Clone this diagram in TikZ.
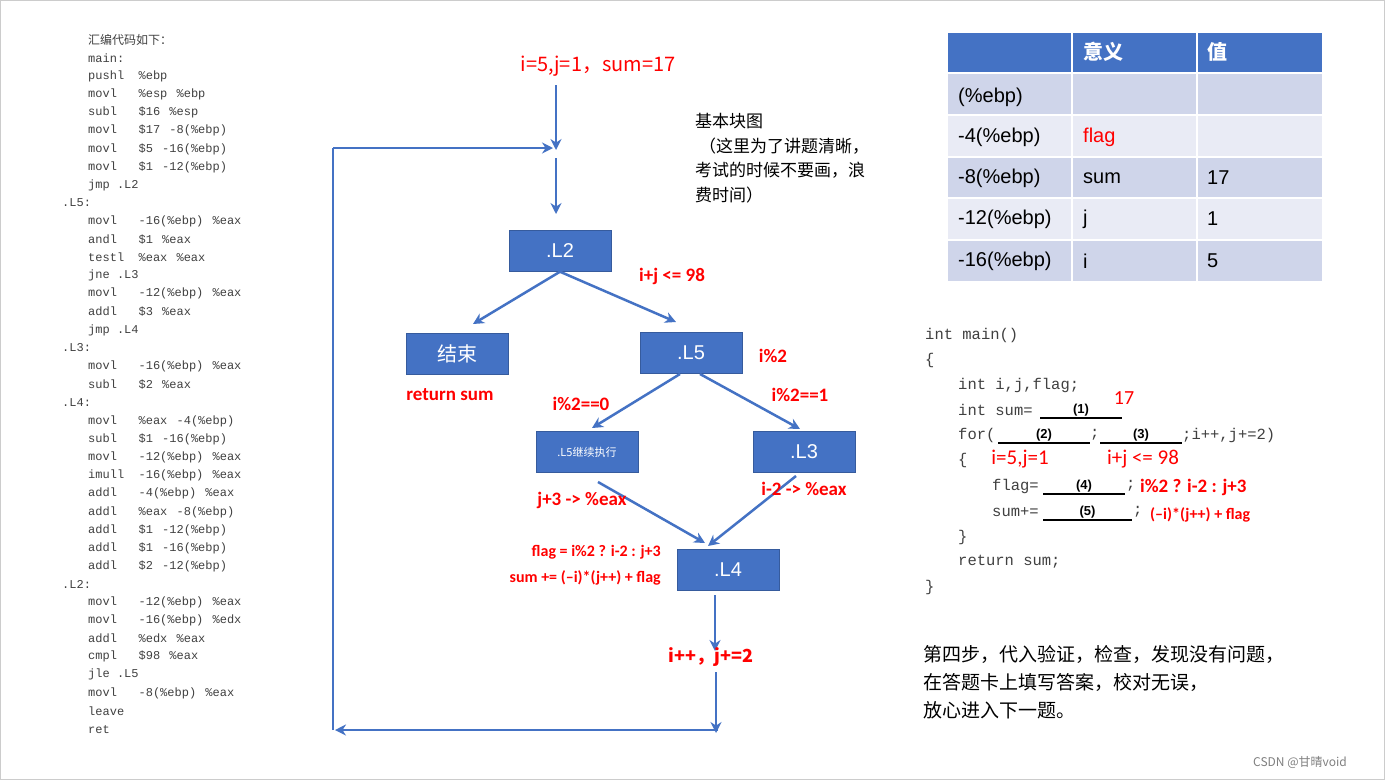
\documentclass[tikz,border=0pt]{standalone}
\usepackage{fontspec}
\setmainfont{Carlito}
\newfontfamily\cjk{Noto Sans CJK SC}
\newfontfamily\mono{Liberation Mono}
\newfontfamily\lsans{Liberation Sans}
\usetikzlibrary{arrows.meta}
\definecolor{bl}{HTML}{4472C4}
\definecolor{ra}{HTML}{CFD5EA}
\definecolor{rb}{HTML}{E9EBF5}
\definecolor{cg}{HTML}{404040}
\begin{document}
\begin{tikzpicture}[x=1pt,y=-1pt,
  box/.style={draw=bl!80!black,fill=bl,text=white,minimum width=102pt,minimum height=41pt,inner sep=0pt,font=\lsans\fontsize{20}{22}\selectfont},
  ar/.style={draw=bl,line width=2.5pt,-{Stealth[length=11pt,width=11pt]}},
  ln/.style={draw=bl,line width=2.5pt},
  red/.style={text=red,font=\bfseries\fontsize{19}{21}\selectfont,inner sep=0pt},
  asm/.style={anchor=west,inner sep=0pt,text=cg,font=\mono\fontsize{12}{14}\selectfont},
  cc/.style={anchor=west,inner sep=0pt,text=cg,font=\mono\fontsize{15.5}{17}\selectfont},
  cell/.style={anchor=west,inner sep=0pt,font=\lsans\fontsize{20}{22}\selectfont}]
\useasboundingbox (0,0) rectangle (1385,780);
\fill[white] (0,0) rectangle (1385,780);
\draw[gray!40] (0.5,0.5) rectangle (1384.5,779.5);
% assembly
\node[asm,font=\cjk\fontsize{12}{14}\selectfont] (a0) at (88,40) {汇编代码如下：};
\foreach \t [count=\i] in {main:,pushl\ \ \%ebp,movl\ \ \ \%esp\, \%ebp,subl\ \ \ \$16\, \%esp,movl\ \ \ \$17\, -8(\%ebp),movl\ \ \ \$5\, -16(\%ebp),movl\ \ \ \$1\, -12(\%ebp),jmp .L2}
  \node[asm] (am\i) at (88,40+\i*18.15) {\t};
\node[asm] (lL5) at (62,203) {.L5:};
\foreach \t [count=\i] in {movl\ \ \ -16(\%ebp)\, \%eax,andl\ \ \ \$1\, \%eax,testl\ \ \%eax\, \%eax,jne .L3,movl\ \ \ -12(\%ebp)\, \%eax,addl\ \ \ \$3\, \%eax,jmp .L4}
  \node[asm] (b\i) at (88,203+\i*18.15) {\t};
\node[asm] (lL3) at (62,348) {.L3:};
\foreach \t [count=\i] in {movl\ \ \ -16(\%ebp)\, \%eax,subl\ \ \ \$2\, \%eax}
  \node[asm] (c\i) at (88,348+\i*18.15) {\t};
\node[asm] (lL4) at (62,403) {.L4:};
\foreach \t [count=\i] in {movl\ \ \ \%eax\, -4(\%ebp),subl\ \ \ \$1\, -16(\%ebp),movl\ \ \ -12(\%ebp)\, \%eax,imull\ \ -16(\%ebp)\, \%eax,addl\ \ \ -4(\%ebp)\, \%eax,addl\ \ \ \%eax\, -8(\%ebp),addl\ \ \ \$1\, -12(\%ebp),addl\ \ \ \$1\, -16(\%ebp),addl\ \ \ \$2\, -12(\%ebp)}
  \node[asm] (d\i) at (88,403+\i*18.15) {\t};
\node[asm] (lL2) at (62,584) {.L2:};
\foreach \t [count=\i] in {movl\ \ \ -12(\%ebp)\, \%eax,movl\ \ \ -16(\%ebp)\, \%edx,addl\ \ \ \%edx\, \%eax,cmpl\ \ \ \$98\, \%eax,jle .L5,movl\ \ \ -8(\%ebp)\, \%eax,leave,ret}
  \node[asm] (e\i) at (88,584+\i*18.15) {\t};
% flowchart
\node[text=red,font=\cjk\fontsize{20}{22}\selectfont,inner sep=0pt] (init) at (598,66) {i=5,j=1，sum=17};
\coordinate (t1) at (556,85); \coordinate (m) at (556,150);
\coordinate (t2) at (556,158); \coordinate (t3) at (556,214);
\draw[ar] (t1) -- (m);
\coordinate (lb) at (333,730); \coordinate (lt) at (333,148); \coordinate (lr) at (553,148);
\coordinate (br) at (718,730);
\draw[ar] (lt) -- (lr);
\draw[ln] (lb) -- (lt);
\draw[ar] (t2) -- (t3);
\node[box] (L2) at (560,251) {.L2};
\node[box] (end) at (457,354) {\cjk 结束};
\node[box] (L5) at (691,353) {.L5};
\node[box,font=\cjk\fontsize{11}{13}\selectfont] (L5c) at (587,452) {.L5继续执行};
\node[box] (L3) at (804,452) {.L3};
\node[box] (L4) at (728,570) {.L4};
\draw[ar] (L2.south) -- (473,324);
\draw[ar] (L2.south) -- (676,322);
\draw[ar] (680,374) -- (592,428);
\draw[ar] (700,374) -- (800,429);
\draw[ar] (598,482) -- (705,543);
\draw[ar] (796,476) -- (708,546);
\coordinate (u1) at (715,595); \coordinate (u2) at (715,651);
\draw[ar] (u1) -- (u2);
\coordinate (v1) at (716,672); \coordinate (v2) at (716,733);
\draw[ar] (v1) -- (v2);
\draw[ar] (br) -- (335,730);
\node[red] (c1) at (672,276) {i+j <= 98};
\node[red] (rs) at (450,395) {return sum};
\node[red] (c2) at (773,356) {i\%2};
\node[red] (c3) at (581,404) {i\%2==0};
\node[red] (c4) at (800,395) {i\%2==1};
\node[red] (c5) at (582,500) {j+3 -> \%eax};
\node[red] (c6) at (804,489) {i-2 -> \%eax};
\node[red,anchor=east,font=\bfseries\fontsize{16}{18}\selectfont] (c7) at (661,552) {flag = i\%2 ? i-2 : j+3};
\node[red,anchor=east,font=\bfseries\fontsize{16}{18}\selectfont] (c8) at (661,578) {sum += (--i)*(j++) + flag};
\node[red,font=\cjk\bfseries\fontsize{18}{20}\selectfont] (c9) at (711,657) {i++，j+=2};
\node[anchor=north west,inner sep=0pt,align=left,font=\cjk\fontsize{17}{24.7}\selectfont] (note) at (695,113) {基本块图\\\ （这里为了讲题清晰，\\考试的时候不要画，浪\\费时间）};
% table
\fill[bl] (948,33) rectangle (1322,72);
\foreach \y [count=\i] in {73,115,157,198,240}{
  \pgfmathsetmacro\yy{\y+41}
  \ifodd\i \fill[ra] (948,\y) rectangle (1322,\yy); \else \fill[rb] (948,\y) rectangle (1322,\yy); \fi}
\foreach \y in {73,115,157,198,240} \draw[white,line width=1.2pt] (948,\y) -- (1322,\y);
\foreach \x in {1072,1197} \draw[white,line width=1.2pt] (\x,33) -- (\x,281);
\node[cell,text=white,font=\cjk\bfseries\fontsize{20}{22}\selectfont] (h1) at (1083,52) {意义};
\node[cell,text=white,font=\cjk\bfseries\fontsize{20}{22}\selectfont] (h2) at (1207,52) {值};
\node[cell] (r1) at (958,97) {(\%ebp)};
\node[cell] (r2) at (958,137) {-4(\%ebp)};
\node[cell,text=red] (r2b) at (1083,137) {flag};
\node[cell] (r3) at (958,178) {-8(\%ebp)};
\node[cell] (r3b) at (1083,178) {sum};
\node[cell] (r3c) at (1207,178) {17};
\node[cell] (r4) at (958,219) {-12(\%ebp)};
\node[cell] (r4b) at (1083,219) {j};
\node[cell] (r4c) at (1207,219) {1};
\node[cell] (r5) at (958,261) {-16(\%ebp)};
\node[cell] (r5b) at (1083,261) {i};
\node[cell] (r5c) at (1207,261) {5};
% C code
\node[cc] (k1) at (925,335) {int main()};
\node[cc] (k2) at (925,360) {\{};
\node[cc] (k3) at (958,385) {int i,j,flag;};
\node[cc] (k4) at (958,410) {int sum=};
\node[cc] (k5) at (958,435) {for(};
\node[cc] (k5b) at (1090,435) {;};
\node[cc] (k5c) at (1182,435) {;i++,j+=2)};
\node[cc] (k6) at (958,460) {\{};
\node[cc] (k7) at (992,486) {flag=};
\node[cc] (k7b) at (1126,486) {;};
\node[cc] (k8) at (992,512) {sum+=};
\node[cc] (k8b) at (1133,512) {;};
\node[cc] (k9) at (958,537) {\}};
\node[cc] (k10) at (958,562) {return sum;};
\node[cc] (k11) at (925,587) {\}};
\foreach \a/\b/\y/\t in {1040/1122/418/(1),998/1090/443/(2),1100/1182/443/(3),1043/1125/494/(4),1043/1132/520/(5)}{
  \draw[line width=1.2pt] (\a,\y) -- (\b,\y);
  \node[font=\lsans\bfseries\fontsize{13}{15}\selectfont,inner sep=0pt] at ({(\a+\b)/2},\y-8) {\t};}
\node[text=red,font=\fontsize{20}{22}\selectfont,inner sep=0pt] (v17) at (1124,398) {17};
\node[text=red,font=\fontsize{21}{23}\selectfont,inner sep=0pt] (vi) at (1020,459) {i=5,j=1};
\node[text=red,font=\fontsize{21}{23}\selectfont,inner sep=0pt] (vc) at (1143,459) {i+j <= 98};
\node[red,anchor=west] (vf) at (1140,487) {i\%2 ? i-2 : j+3};
\node[red,anchor=west,font=\bfseries\fontsize{16}{18}\selectfont] (vs) at (1150,515) {(--i)*(j++) + flag};
% bottom text
\node[anchor=north west,inner sep=0pt,align=left,font=\cjk\fontsize{19}{28}\selectfont] (step) at (923,645) {第四步，代入验证，检查，发现没有问题，\\在答题卡上填写答案，校对无误，\\放心进入下一题。};
\node[text=gray,font=\cjk\fontsize{12}{14}\selectfont,inner sep=0pt] (wm) at (1300,762) {CSDN @甘晴void};
\end{tikzpicture}
\end{document}
